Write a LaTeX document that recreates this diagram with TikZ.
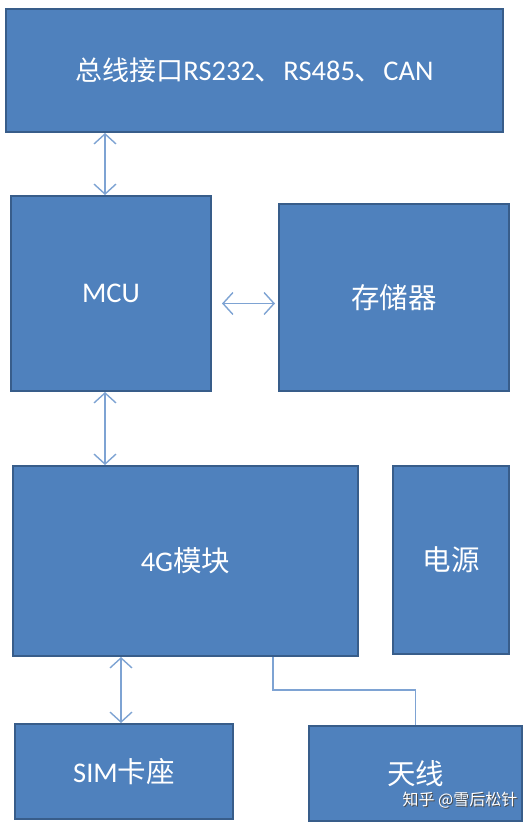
\documentclass[tikz,border=0pt]{standalone}
\usepackage{fontspec}
\setmainfont{Carlito}
\newfontfamily\cjk{Noto Sans CJK SC}
\usetikzlibrary{arrows.meta}

\definecolor{boxfill}{HTML}{4F81BD}
\definecolor{boxline}{HTML}{385D8A}
\definecolor{linkcol}{HTML}{7EA3D3}

\tikzset{
  block/.style={draw=boxline, fill=boxfill, line width=2pt, text=white,
    font=\fontsize{28.5}{33}\selectfont, inner sep=0pt, anchor=north west},
  link/.style={draw=linkcol, line width=1.4pt,
    {Straight Barb[length=10pt,width=22pt]}-{Straight Barb[length=10pt,width=22pt]}},
  wire/.style={draw=linkcol, line width=1.3pt},
}

\begin{document}
\begin{tikzpicture}[x=1pt,y=-1pt]

% Fix the page size
\useasboundingbox (0,0) rectangle (529,826);

% Draw the blocks
\node[block, minimum width=497pt, minimum height=123pt] (bus) at (5,8)
  {{\cjk\fontsize{27}{32}\selectfont 总线接口}RS232{\cjk 、}RS485{\cjk 、}CAN};
\node[block, minimum width=200pt, minimum height=195pt] (mcu) at (10,195) {MCU};
\node[block, minimum width=230pt, minimum height=187pt] (mem) at (278,203) {\cjk 存储器};
\node[block, minimum width=345pt, minimum height=190pt] (g4) at (12,465) {4G{\cjk 模块}};
\node[block, minimum width=116pt, minimum height=188pt] (pwr) at (392,465) {\cjk 电源};
\node[block, minimum width=218pt, minimum height=95pt] (sim) at (14,723) {SIM{\cjk 卡座}};
\node[block, minimum width=213pt, minimum height=95pt] (ant) at (308,725) {\cjk 天线};

% Draw the links
\draw[link] ([xshift=-6pt]mcu.north |- bus.south) -- ([xshift=-6pt]mcu.north);
\draw[link] ([xshift=10pt,yshift=-10pt]mcu.east) -- ([xshift=-3pt,yshift=-10pt]mcu.east -| mem.west);
\draw[link] ([xshift=-6pt]mcu.south) -- ([xshift=-6pt]mcu.south |- g4.north);
\draw[link] ([xshift=-3pt]sim.north |- g4.south) -- ([xshift=-3pt]sim.north);
\draw[wire] ([xshift=-86pt]g4.south east) |- ([yshift=35pt]ant.north) -- (ant.north);

% Watermark
\node[text=black!70, font=\cjk\fontsize{16}{18}\selectfont] (wmshadow) at (461,801) {知乎 @雪后松针};
\node[text=white, font=\cjk\fontsize{16}{18}\selectfont] (wm) at (460,800) {知乎 @雪后松针};

\end{tikzpicture}
\end{document}
